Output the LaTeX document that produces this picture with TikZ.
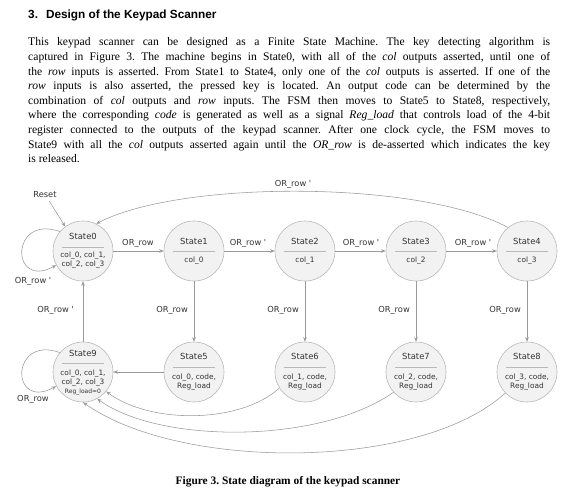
\documentclass[tikz,border=0pt]{standalone}
\usepackage{fontspec}
\setmainfont{Liberation Serif}
\newfontfamily\diagfont{DejaVu Sans}
\newfontfamily\headfont{Liberation Sans}
\usetikzlibrary{arrows.meta,calc}
\definecolor{dtext}{HTML}{333333}
\definecolor{dline}{HTML}{9A9A9A}
\definecolor{sborder}{HTML}{B8B8B8}
\definecolor{sfill}{HTML}{F2F2F2}
\frenchspacing
\begin{document}
\begin{tikzpicture}[x=1pt,y=-1pt,
  state/.style={circle, draw=sborder, fill=sfill, line width=0.6pt, minimum size=60pt, inner sep=0pt},
  nm/.style={font=\diagfont\fontsize{8.4}{9}\selectfont, text=dtext, inner sep=0pt, anchor=mid},
  sub/.style={font=\diagfont\fontsize{7.4}{9}\selectfont, text=dtext, inner sep=0pt, anchor=mid},
  tinyt/.style={font=\diagfont\fontsize{6}{7}\selectfont, text=dtext, inner sep=0pt, anchor=mid},
  lbl/.style={font=\diagfont\fontsize{8.3}{9}\selectfont, text=dtext, inner sep=0pt, anchor=mid},
  tr/.style={draw=dline, line width=0.55pt, -{Stealth[length=4.5pt,width=3.6pt]}},
  div/.style={draw=sborder, line width=0.5pt},
  bodyline/.style={anchor=base west, inner sep=0pt, font=\fontsize{11.6}{14}\selectfont}
]
\useasboundingbox (0,0) rectangle (578,492);

% heading and text
\node[anchor=base west, inner sep=0pt, font=\headfont\bfseries\fontsize{11.8}{14}\selectfont] (title) at (28,18.5) {3.\hspace{8pt}Design of the Keypad Scanner};
\node[bodyline] (b1) at (28,46) {\makebox[522pt][s]{This keypad scanner can be designed as a Finite State Machine. The key detecting algorithm is}};
\node[bodyline] (b2) at (28,60.6) {\makebox[522pt][s]{captured in Figure 3. The machine begins in State0, with all of the \textit{col} outputs asserted, until one of}};
\node[bodyline] (b3) at (28,75.2) {\makebox[522pt][s]{the \textit{row} inputs is asserted. From State1 to State4, only one of the \textit{col} outputs is asserted. If one of the}};
\node[bodyline] (b4) at (28,89.8) {\makebox[522pt][s]{\textit{row} inputs is also asserted, the pressed key is located. An output code can be determined by the}};
\node[bodyline] (b5) at (28,104.4) {\makebox[522pt][s]{combination of \textit{col} outputs and \textit{row} inputs. The FSM then moves to State5 to State8, respectively,}};
\node[bodyline] (b6) at (28,119) {\makebox[522pt][s]{where the corresponding \textit{code} is generated as well as a signal \textit{Reg\_load} that controls load of the 4-bit}};
\node[bodyline] (b7) at (28,133.6) {\makebox[522pt][s]{register connected to the outputs of the keypad scanner. After one clock cycle, the FSM moves to}};
\node[bodyline] (b8) at (28,148.2) {\makebox[522pt][s]{State9 with all the \textit{col} outputs asserted again until the \textit{OR\_row} is de-asserted which indicates the key}};
\node[bodyline] (b9) at (28,162.8) {is released.};

% states
\node[state] (s0) at (83,251) {};
\node[state] (s1) at (194,251) {};
\node[state] (s2) at (305,251) {};
\node[state] (s3) at (416,251) {};
\node[state] (s4) at (527,251) {};
\node[state] (s9) at (83,372) {};
\node[state] (s5) at (194,372) {};
\node[state] (s6) at (305,372) {};
\node[state] (s7) at (416,372) {};
\node[state] (s8) at (527,372) {};

% State0
\node[nm] (s0n) at ($(s0)+(0,-14)$) {State0};
\draw[div] ($(s0)+(-21,-4)$) -- ($(s0)+(21,-4)$);
\node[sub] (s0a) at ($(s0)+(0,4.5)$) {col\_0, col\_1,};
\node[sub] (s0b) at ($(s0)+(0,13.5)$) {col\_2, col\_3};
% State1-4
\node[nm] (s1n) at ($(s1)+(0,-9)$) {State1};
\draw[div] ($(s1)+(-21,0)$) -- ($(s1)+(21,0)$);
\node[sub] (s1a) at ($(s1)+(0,9)$) {col\_0};
\node[nm] (s2n) at ($(s2)+(0,-9)$) {State2};
\draw[div] ($(s2)+(-21,0)$) -- ($(s2)+(21,0)$);
\node[sub] (s2a) at ($(s2)+(0,9)$) {col\_1};
\node[nm] (s3n) at ($(s3)+(0,-9)$) {State3};
\draw[div] ($(s3)+(-21,0)$) -- ($(s3)+(21,0)$);
\node[sub] (s3a) at ($(s3)+(0,9)$) {col\_2};
\node[nm] (s4n) at ($(s4)+(0,-9)$) {State4};
\draw[div] ($(s4)+(-21,0)$) -- ($(s4)+(21,0)$);
\node[sub] (s4a) at ($(s4)+(0,9)$) {col\_3};
% State5-8
\node[nm] (s5n) at ($(s5)+(0,-15)$) {State5};
\draw[div] ($(s5)+(-21,-5)$) -- ($(s5)+(21,-5)$);
\node[sub] (s5a) at ($(s5)+(0,5)$) {col\_0, code,};
\node[sub] (s5b) at ($(s5)+(0,14)$) {Reg\_load};
\node[nm] (s6n) at ($(s6)+(0,-15)$) {State6};
\draw[div] ($(s6)+(-21,-5)$) -- ($(s6)+(21,-5)$);
\node[sub] (s6a) at ($(s6)+(0,5)$) {col\_1, code,};
\node[sub] (s6b) at ($(s6)+(0,14)$) {Reg\_load};
\node[nm] (s7n) at ($(s7)+(0,-15)$) {State7};
\draw[div] ($(s7)+(-21,-5)$) -- ($(s7)+(21,-5)$);
\node[sub] (s7a) at ($(s7)+(0,5)$) {col\_2, code,};
\node[sub] (s7b) at ($(s7)+(0,14)$) {Reg\_load};
\node[nm] (s8n) at ($(s8)+(0,-15)$) {State8};
\draw[div] ($(s8)+(-21,-5)$) -- ($(s8)+(21,-5)$);
\node[sub] (s8a) at ($(s8)+(0,5)$) {col\_3, code,};
\node[sub] (s8b) at ($(s8)+(0,14)$) {Reg\_load};
% State9
\node[nm] (s9n) at ($(s9)+(0,-18)$) {State9};
\draw[div] ($(s9)+(-21,-9)$) -- ($(s9)+(21,-9)$);
\node[sub] (s9a) at ($(s9)+(0,1)$) {col\_0, col\_1,};
\node[sub] (s9b) at ($(s9)+(0,10)$) {col\_2, col\_3};
\node[tinyt] (s9c) at ($(s9)+(0,19)$) {Reg\_load=0};

% reset
\node[lbl] (reset) at (45,195) {Reset};
\draw[tr, shorten <=4pt] (reset) -- (s0.126);

% top arc
\draw[tr] (s4.129) .. controls (420,180) and (180,180) .. (s0.64);
\node[lbl] (ltop) at (293,184) {OR\_row '};

% horizontal transitions
\draw[tr] (s0) -- (s1);
\node[lbl] (l01) at (138,243) {OR\_row};
\draw[tr] (s1) -- (s2);
\node[lbl] (l12) at (248,243) {OR\_row '};
\draw[tr] (s2) -- (s3);
\node[lbl] (l23) at (361,243) {OR\_row '};
\draw[tr] (s3) -- (s4);
\node[lbl] (l34) at (473,243) {OR\_row '};

% vertical transitions
\draw[tr] (s9) -- (s0);
\node[lbl, anchor=east] (l90) at (74,310) {OR\_row '};
\draw[tr] (s1) -- (s5);
\node[lbl, anchor=east] (l15) at (188,310) {OR\_row};
\draw[tr] (s2) -- (s6);
\node[lbl, anchor=east] (l26) at (299,310) {OR\_row};
\draw[tr] (s3) -- (s7);
\node[lbl, anchor=east] (l37) at (410,310) {OR\_row};
\draw[tr] (s4) -- (s8);
\node[lbl, anchor=east] (l48) at (521,310) {OR\_row};

% self loops
\draw[tr] (s0.140) .. controls (10,214) and (10,290) .. (s0.208);
\node[lbl] (l00) at (33,281) {OR\_row '};
\draw[tr] (s9.140) .. controls (10,335) and (10,411) .. (s9.208);
\node[lbl] (l99) at (33,399) {OR\_row};

% return transitions
\draw[tr] (s5) -- (s9);
\draw[tr] (s6.212) .. controls (240,424) and (150,424) .. (s9.-40);
\draw[tr] (s7.222) .. controls (320,444) and (160,444) .. (s9.-62);
\draw[tr] (s8.224) .. controls (420,471) and (180,471) .. (s9.-90);

% caption
\node[anchor=base, inner sep=0pt, font=\bfseries\fontsize{11.4}{13}\selectfont] (cap) at (288,484) {Figure 3. State diagram of the keypad scanner};
\end{tikzpicture}
\end{document}
